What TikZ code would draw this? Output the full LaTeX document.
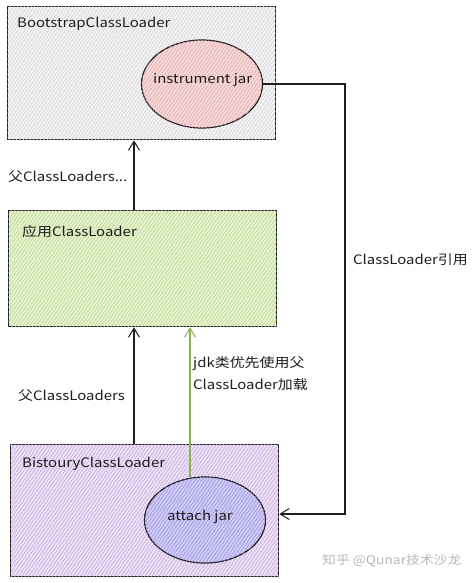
\documentclass[tikz,border=0pt]{standalone}
\usepackage{fontspec}
\setmainfont{Noto Sans CJK SC}[FakeStretch=1.15]
\usetikzlibrary{patterns.meta,shapes.geometric,arrows.meta}
\definecolor{ink}{HTML}{1E1E1E}
\definecolor{bsfill}{HTML}{F4F4F6}
\definecolor{bshatch}{HTML}{D2D2D6}
\definecolor{appfill}{HTML}{E9F3D3}
\definecolor{apphatch}{HTML}{B4D584}
\definecolor{bifill}{HTML}{EEE2F6}
\definecolor{bihatch}{HTML}{C6A5DE}
\definecolor{ijfill}{HTML}{F6DCDC}
\definecolor{ijhatch}{HTML}{E6A4A4}
\definecolor{ajfill}{HTML}{CFCBF4}
\definecolor{ajhatch}{HTML}{9D95E2}
\definecolor{greenline}{HTML}{8BB34E}
\definecolor{wm}{HTML}{B8B8B8}
\tikzset{
  box/.style={draw=ink, line width=1.3pt, rectangle, inner sep=0pt, anchor=north west},
  jar/.style={draw=ink, line width=1.2pt, ellipse, inner sep=0pt},
  hatch/.style 2 args={fill=#1, postaction={pattern={Lines[angle=55,distance=2.8pt,line width=0.6pt]}, pattern color=#2}},
  lbl/.style={font=\fontsize{13}{22}\selectfont, text=ink, anchor=west, inner sep=0pt},
  conn/.style={draw=ink, line width=1.1pt},
  arr/.style={conn, -{Straight Barb[length=9pt,width=11pt,line width=1pt]}},
  garr/.style={draw=greenline, line width=1.2pt, -{Straight Barb[length=9pt,width=11pt,line width=1pt]}},
}
\begin{document}
\begin{tikzpicture}[x=1pt,y=-1pt]
\useasboundingbox[fill=white] (0,0) rectangle (474,583);
% boxes
\node[box, hatch={bsfill}{bshatch}, minimum width=268pt, minimum height=133pt] (bs) at (7,6) {};
\node[box, hatch={appfill}{apphatch}, minimum width=268pt, minimum height=116pt] (app) at (8,210) {};
\node[box, hatch={bifill}{bihatch}, minimum width=268pt, minimum height=132pt] (bi) at (10,444) {};
% jars
\node[jar, hatch={ijfill}{ijhatch}, minimum width=121pt, minimum height=88pt] (ij) at (202,84) {};
\node[jar, hatch={ajfill}{ajhatch}, minimum width=121pt, minimum height=86pt] (aj) at (205,520) {};
% labels
\node[lbl] (tbs) at (17,24) {BootstrapClassLoader};
\node[lbl] (tij) at (153,80) {instrument jar};
\node[lbl] (tapp) at (22,232) {应用ClassLoader};
\node[lbl] (tbi) at (22,464) {BistouryClassLoader};
\node[lbl] (taj) at (167,517) {attach jar};
\node[lbl] (tp1) at (8,177) {父ClassLoaders...};
\node[lbl] (tp2) at (18,396) {父ClassLoaders};
\node[lbl] (tref) at (353,260) {ClassLoader引用};
\node[lbl, align=left, anchor=north west] (tjdk) at (193,356) {jdk类优先使用父\\ClassLoader加载};
\node[font=\fontsize{12}{14}\selectfont, text=wm, anchor=west, inner sep=0pt] (twm) at (322,561) {知乎 @Qunar技术沙龙};
% connector coordinates
\coordinate (x1) at (134,0);
\coordinate (xg) at (190,0);
\coordinate (xr) at (345,0);
\coordinate (yr) at (0,514);
% connectors
\draw[arr] (app.north -| x1) -- (bs.south -| x1);
\draw[arr] (bi.north -| x1) -- (app.south -| x1);
\draw[garr] (aj.north -| xg) ++(0,1) -- (app.south -| xg);
\draw[arr] (ij.east) -- (ij.east -| xr) -- (xr |- yr) -- (bi.east |- yr);
\end{tikzpicture}
\end{document}
